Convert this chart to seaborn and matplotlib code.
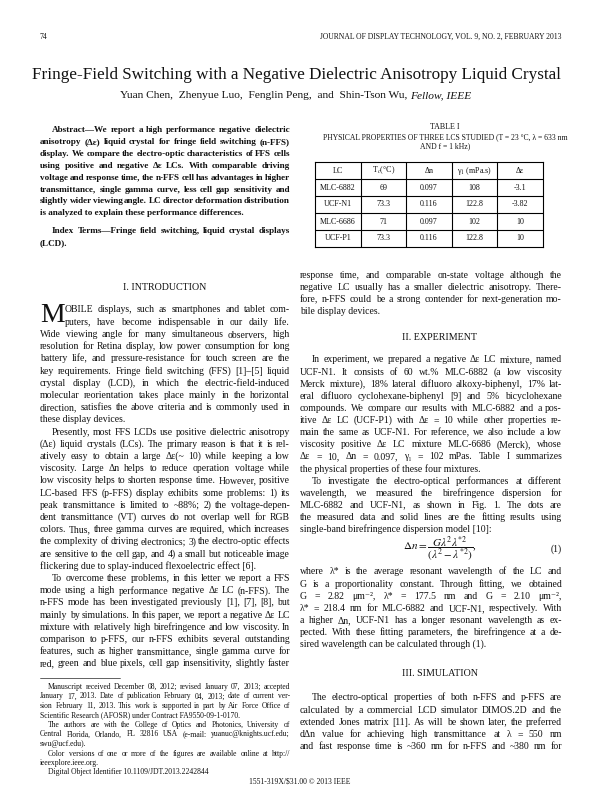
import numpy as np
import pandas as pd
import matplotlib
matplotlib.use("Agg")
import matplotlib.pyplot as plt
from matplotlib.colors import ListedColormap
import seaborn as sns

# ---- table data ----
lc_names = ["MLC-6882", "UCF-N1", "MLC-6686", "UCF-P1"]
tc = ["69", "73.3", "71", "73.3"]
dn = ["0.097", "0.116", "0.097", "0.116"]
gamma1 = ["108", "122.8", "102", "122.8"]
deps = ["-3.1", "-3.82", "10", "10"]
headers = ["LC", "T$_c$(°C)", "Δn", "γ$_1$ (mPa.s)", "Δε"]

sns.set_theme(style="white")
plt.rcParams['font.family'] = ['Liberation Serif', 'DejaVu Serif']
plt.rcParams['mathtext.fontset'] = 'stix'

W, H = 592, 789
fig = plt.figure(figsize=(W/100, H/100), dpi=100)
fig.patch.set_facecolor("white")
R = fig.canvas.get_renderer()

def T(x, y, s, size=7.0, ha="left", **kw):
    return fig.text(x/W, 1-y/H, s, fontsize=size, ha=ha, va="center", color="#111111", **kw)

def jline(x, xr, y, s, size, **kw):
    words = s.split(" ")
    if len(words) < 2:
        T(x, y, s, size, **kw); return
    arts = [T(0, y, w, size, **kw) for w in words]
    widths = [a.get_window_extent(R).width for a in arts]
    gap = (xr - x - sum(widths)) / (len(words) - 1)
    pos = x
    for a, w in zip(arts, widths):
        a.set_x(pos / W)
        pos += w + gap

def block(x, y0, lines, dy, size=7.0, indent=12, xr=None, **kw):
    n = len(lines)
    for i, s in enumerate(lines):
        ind = s.startswith("\t")
        xx = x + (indent if ind else 0)
        s = s.lstrip("\t")
        last = s.endswith("~") or (i + 1 < n and lines[i+1].startswith("\t"))
        s = s.rstrip("~")
        if xr is None or last:
            T(xx, y0 + i*dy, s, size, **kw)
        else:
            jline(xx, xr, y0 + i*dy, s, size, **kw)

# header
T(40, 37, "74", size=5.5)
T(562, 37, "JOURNAL OF DISPLAY TECHNOLOGY, VOL. 9, NO. 2, FEBRUARY 2013", size=5.5, ha="right")
T(296, 75, "Fringe-Field Switching with a Negative Dielectric Anisotropy Liquid Crystal", size=12.3, ha="center")
a1 = T(0, 96, "Yuan Chen,  Zhenyue Luo,  Fenglin Peng,  and  Shin-Tson Wu, ", size=8.2)
a2 = T(0, 96, "Fellow, IEEE", size=8.2, style="italic")
w1 = a1.get_window_extent(R).width; w2 = a2.get_window_extent(R).width
sx = 296 - (w1 + w2) / 2
a1.set_x(sx / W); a2.set_x((sx + w1) / W)

abstract = [
    "\tAbstract—We report a high performance negative dielectric",
    "anisotropy (Δε) liquid crystal for fringe field switching (n-FFS)",
    "display. We compare the electro-optic characteristics of FFS cells",
    "using positive and negative Δε LCs. With comparable driving",
    "voltage and response time, the n-FFS cell has advantages in higher",
    "transmittance, single gamma curve, less cell gap sensitivity and",
    "slightly wider viewing angle. LC director deformation distribution",
    "is analyzed to explain these performance differences.~",
]
block(40, 130, abstract, 11.9, size=6.6, xr=290, fontweight="bold")
block(40, 231, ["\tIndex Terms—Fringe field switching, liquid crystal displays", "(LCD).~"],
      12, size=6.6, xr=290, fontweight="bold")

T(165, 287, "I. INTRODUCTION", size=7.2, ha="center")
T(40, 316, "M", size=20)
block(65, 310, ["OBILE displays, such as smartphones and tablet com-",
                "puters, have become indispensable in our daily life."], 12.2, xr=290)
intro = [
    "Wide viewing angle for many simultaneous observers, high",
    "resolution for Retina display, low power consumption for long",
    "battery life, and pressure-resistance for touch screen are the",
    "key requirements. Fringe field switching (FFS) [1]–[5] liquid",
    "crystal display (LCD), in which the electric-field-induced",
    "molecular reorientation takes place mainly in the horizontal",
    "direction, satisfies the above criteria and is commonly used in",
    "these display devices.",
    "\tPresently, most FFS LCDs use positive dielectric anisotropy",
    "(Δε) liquid crystals (LCs). The primary reason is that it is rel-",
    "atively easy to obtain a large Δε(~ 10) while keeping a low",
    "viscosity. Large Δn helps to reduce operation voltage while",
    "low viscosity helps to shorten response time. However, positive",
    "LC-based FFS (p-FFS) display exhibits some problems: 1) its",
    "peak transmittance is limited to ~88%; 2) the voltage-depen-",
    "dent transmittance (VT) curves do not overlap well for RGB",
    "colors. Thus, three gamma curves are required, which increases",
    "the complexity of driving electronics; 3) the electro-optic effects",
    "are sensitive to the cell gap, and 4) a small but noticeable image",
    "flickering due to splay-induced flexoelectric effect [6].",
    "\tTo overcome these problems, in this letter we report a FFS",
    "mode using a high performance negative Δε LC (n-FFS). The",
    "n-FFS mode has been investigated previously [1], [7], [8], but",
    "mainly by simulations. In this paper, we report a negative Δε LC",
    "mixture with relatively high birefringence and low viscosity. In",
    "comparison to p-FFS, our n-FFS exhibits several outstanding",
    "features, such as higher transmittance, single gamma curve for",
    "red, green and blue pixels, cell gap insensitivity, slightly faster",
]
block(40, 334.5, intro, 12.2, xr=290)

fig.add_artist(plt.Line2D([40/W, 120/W], [1-678/H, 1-678/H], color="#222", lw=0.5))
foot = [
    "\tManuscript received December 08, 2012; revised January 07, 2013; accepted",
    "January 17, 2013. Date of publication February 04, 2013; date of current ver-",
    "sion February 11, 2013. This work is supported in part by Air Force Office of",
    "Scientific Research (AFOSR) under Contract FA9550-09-1-0170.",
    "\tThe authors are with the College of Optics and Photonics, University of",
    "Central Florida, Orlando, FL 32816 USA (e-mail: yuanuc@knights.ucf.edu;",
    "swu@ucf.edu).",
    "\tColor versions of one or more of the figures are available online at http://",
    "ieeexplore.ieee.org.",
    "\tDigital Object Identifier 10.1109/JDT.2013.2242844~",
]
block(40, 687, foot, 9.5, size=5.5, indent=8, xr=290)
T(300, 781, "1551-319X/$31.00 © 2013 IEEE", size=5.5, ha="center")

T(445, 127, "TABLE I", size=5.8, ha="center")
T(445, 137, "PHYSICAL PROPERTIES OF THREE LCS STUDIED (T = 23 °C, λ = 633 nm", size=5.5, ha="center")
T(445, 146, "AND f = 1 kHz)", size=5.5, ha="center")

cells = np.array([headers] + [list(r) for r in zip(lc_names, tc, dn, gamma1, deps)], dtype=object)
x0, y0, x1, y1 = 315, 162, 543, 247
ax = fig.add_axes([x0/W, 1-y1/H, (x1-x0)/W, (y1-y0)/H])
sns.heatmap(np.zeros(cells.shape), annot=cells, fmt="", cmap=ListedColormap(["white"]),
            cbar=False, linewidths=0, ax=ax,
            annot_kws={"fontsize": 5.8, "color": "#111", "family": "Liberation Serif"})
for r in range(1, cells.shape[0]):
    ax.axhline(r, color="black", lw=0.8)
for c in range(1, cells.shape[1]):
    ax.axvline(c, color="black", lw=0.8)
ax.set_xticks([]); ax.set_yticks([])
for sp in ax.spines.values():
    sp.set_visible(True); sp.set_linewidth(0.8); sp.set_color("black")

right = [
    "response time, and comparable on-state voltage although the",
    "negative LC usually has a smaller dielectric anisotropy. There-",
    "fore, n-FFS could be a strong contender for next-generation mo-",
    "bile display devices.~",
]
block(300, 275, right, 12.1, xr=562)
T(440, 337, "II. EXPERIMENT", size=7.2, ha="center")
exp = [
    "\tIn experiment, we prepared a negative Δε LC mixture, named",
    "UCF-N1. It consists of 60 wt.% MLC-6882 (a low viscosity",
    "Merck mixture), 18% lateral difluoro alkoxy-biphenyl, 17% lat-",
    "eral difluoro cyclohexane-biphenyl [9] and 5% bicyclohexane",
    "compounds. We compare our results with MLC-6882 and a pos-",
    "itive Δε LC (UCF-P1) with Δε = 10 while other properties re-",
    "main the same as UCF-N1. For reference, we also include a low",
    "viscosity positive Δε LC mixture MLC-6686 (Merck), whose",
    "Δε = 10, Δn = 0.097, γ₁ = 102 mPas. Table I summarizes",
    "the physical properties of these four mixtures.",
    "\tTo investigate the electro-optical performances at different",
    "wavelength, we measured the birefringence dispersion for",
    "MLC-6882 and UCF-N1, as shown in Fig. 1. The dots are",
    "the measured data and solid lines are the fitting results using",
    "single-band birefringence dispersion model [10]:~",
]
block(300, 360, exp, 12.1, xr=562)
T(440, 549, r"$\Delta n = \dfrac{G\lambda^2\lambda^{*2}}{(\lambda^2-\lambda^{*2})}$,", size=8, ha="center")
T(562, 549, "(1)", size=7, ha="right")
exp2 = [
    "where λ* is the average resonant wavelength of the LC and",
    "G is a proportionality constant. Through fitting, we obtained",
    "G = 2.82 μm⁻², λ* = 177.5 nm and G = 2.10 μm⁻²,",
    "λ* = 218.4 nm for MLC-6882 and UCF-N1, respectively. With",
    "a higher Δn, UCF-N1 has a longer resonant wavelength as ex-",
    "pected. With these fitting parameters, the birefringence at a de-",
    "sired wavelength can be calculated through (1).~",
]
block(300, 572, exp2, 12.1, xr=562)
T(440, 674, "III. SIMULATION", size=7.2, ha="center")
sim = [
    "\tThe electro-optical properties of both n-FFS and p-FFS are",
    "calculated by a commercial LCD simulator DIMOS.2D and the",
    "extended Jones matrix [11]. As will be shown later, the preferred",
    "dΔn value for achieving high transmittance at λ = 550 nm",
    "and fast response time is ~360 nm for n-FFS and ~380 nm for",
]
block(300, 698, sim, 12.1, xr=562)

fig.savefig("out.png", dpi=100, facecolor="white")
